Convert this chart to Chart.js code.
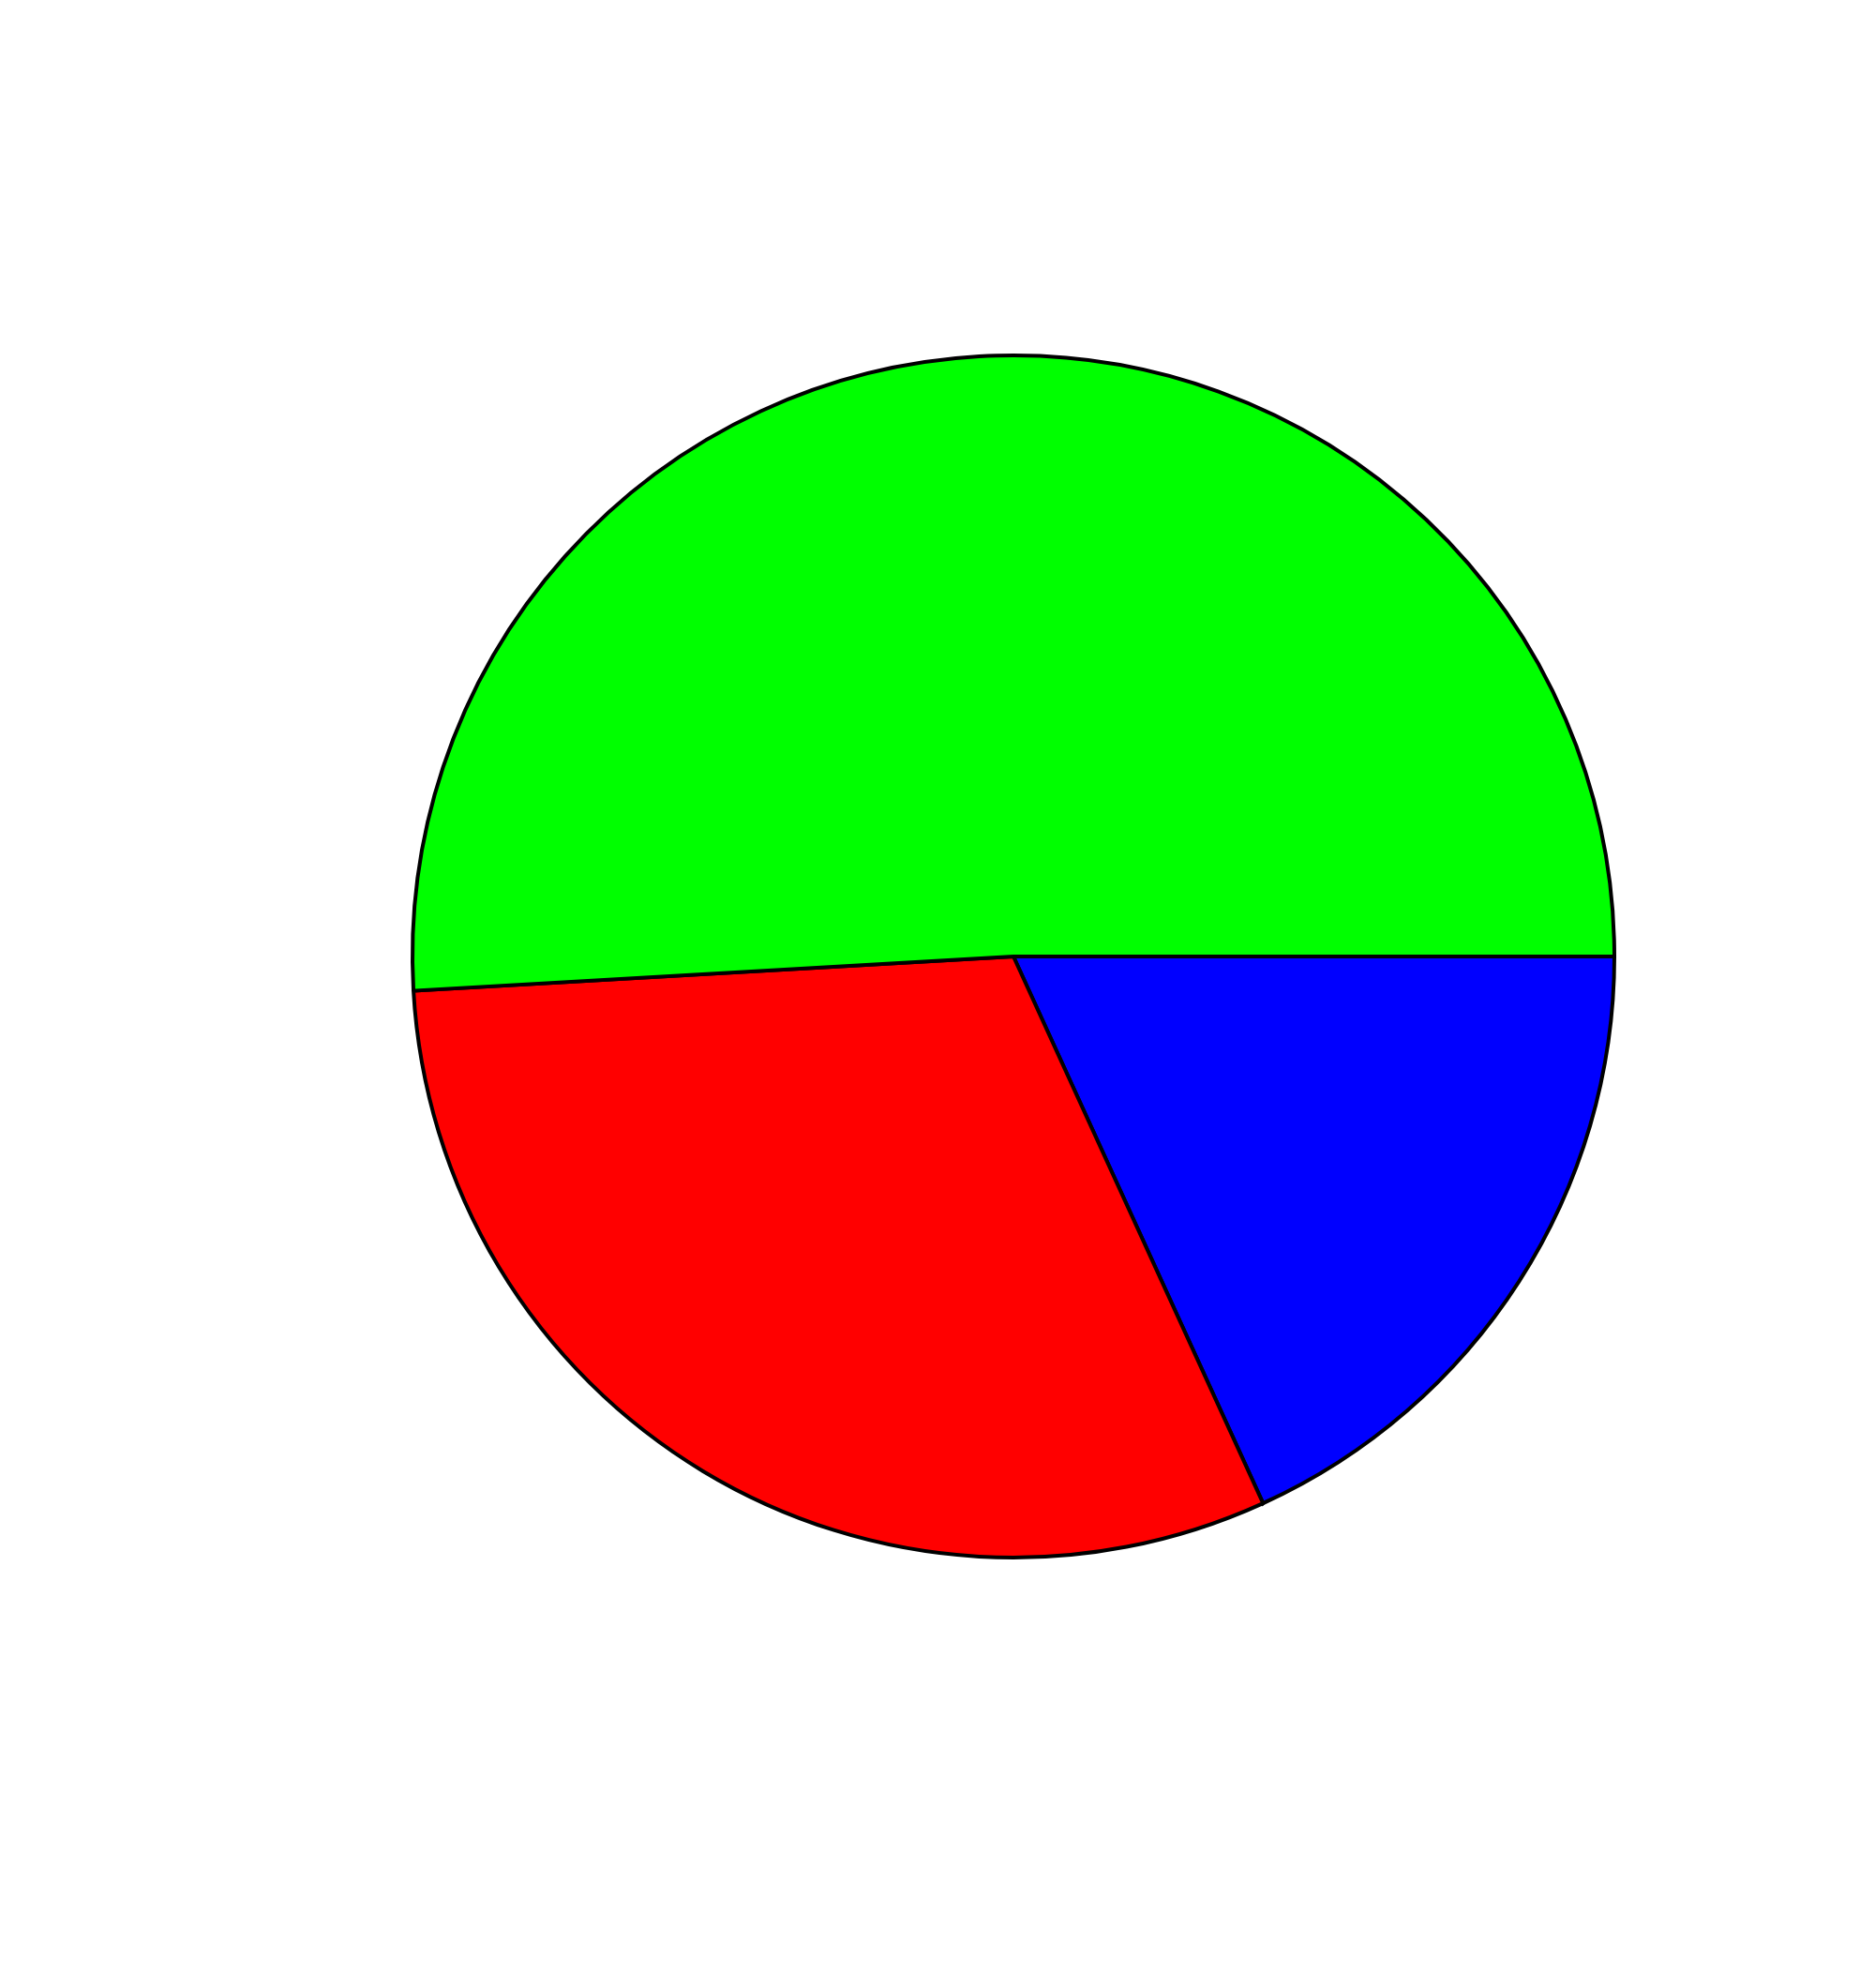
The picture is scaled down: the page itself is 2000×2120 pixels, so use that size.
<!DOCTYPE html>
<html>
<head>
<meta charset="utf-8">
<script src="https://cdn.jsdelivr.net/npm/chart.js@4"></script>
<style>
  html, body { margin: 0; padding: 0; background: #ffffff; }
  #pieChart { display: block; }
</style>
</head>
<body>
<canvas id="pieChart" width="2000" height="2120"></canvas>
<script>
// slices listed in clockwise order starting from 3 o'clock
var categories = ["Blue", "Red", "Green"];
var values = [10, 17, 28];
var colors = ["#0000ff", "#ff0000", "#00ff00"];

var data = {
  labels: categories,
  datasets: [
    {
      data: values,
      backgroundColor: colors,
      borderColor: "#000000",
      borderWidth: 4,
      borderJoinStyle: "miter",
      radius: 641,
    },
  ],
};

var config = {
  type: "pie",
  data: data,
  options: {
    responsive: false,
    devicePixelRatio: 1,
    animation: false,
    rotation: 90,
    layout: {
      padding: { left: 421, right: 259, top: 360, bottom: 440 },
    },
    plugins: {
      legend: { display: false },
      tooltip: { enabled: false },
    },
  },
};

var myChart = new Chart(document.getElementById("pieChart"), config);
</script>
</body>
</html>
